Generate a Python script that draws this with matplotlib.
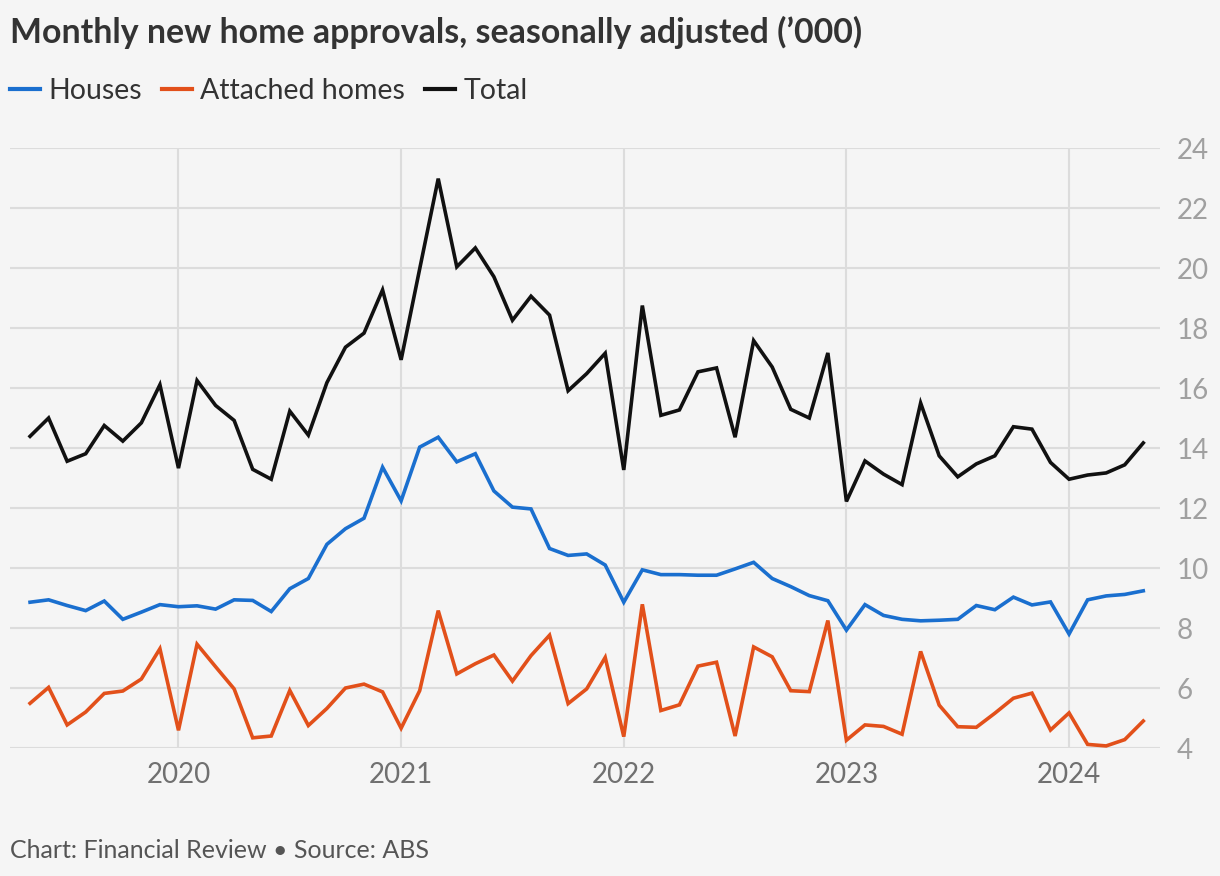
import numpy as np
import matplotlib
matplotlib.use("Agg")
import matplotlib.pyplot as plt

plt.rcParams['font.family'] = ['Lato', 'DejaVu Sans']

# monthly, May 2019 .. May 2024 ('000, seasonally adjusted)
start_year, start_month = 2019, 5
houses = [8.86, 8.94, 8.75, 8.58, 8.90, 8.29, 8.53, 8.78, 8.71, 8.74, 8.63, 8.94,
          8.92, 8.55, 9.31, 9.65, 10.79, 11.31, 11.66, 13.36, 12.24, 14.03, 14.36, 13.54,
          13.81, 12.57, 12.03, 11.97, 10.65, 10.42, 10.47, 10.10, 8.86, 9.94, 9.78, 9.78,
          9.76, 9.76, 9.97, 10.19, 9.65, 9.38, 9.08, 8.91, 7.93, 8.78, 8.42, 8.29,
          8.24, 8.26, 8.29, 8.75, 8.61, 9.03, 8.77, 8.87, 7.80, 8.94, 9.07, 9.12, 9.24]
attached = [5.49, 6.02, 4.77, 5.20, 5.82, 5.90, 6.30, 7.31, 4.59, 7.46, 6.71, 5.97,
            4.34, 4.40, 5.92, 4.75, 5.32, 6.00, 6.13, 5.87, 4.66, 5.91, 8.58, 6.47,
            6.81, 7.10, 6.23, 7.08, 7.76, 5.48, 5.97, 7.02, 4.38, 8.79, 5.25, 5.44,
            6.73, 6.86, 4.40, 7.37, 7.04, 5.91, 5.88, 8.25, 4.26, 4.77, 4.72, 4.46,
            7.22, 5.43, 4.71, 4.69, 5.16, 5.66, 5.83, 4.60, 5.17, 4.12, 4.07, 4.28, 4.90]
total = [14.39, 15.00, 13.56, 13.81, 14.75, 14.23, 14.84, 16.11, 13.33, 16.25, 15.42, 14.92,
         13.29, 12.96, 15.23, 14.43, 16.18, 17.36, 17.83, 19.27, 16.94, 19.97, 22.98, 20.04,
         20.67, 19.71, 18.26, 19.06, 18.43, 15.91, 16.48, 17.16, 13.27, 18.75, 15.09, 15.27,
         16.54, 16.67, 14.36, 17.58, 16.70, 15.29, 15.00, 17.17, 12.22, 13.57, 13.13, 12.78,
         15.50, 13.74, 13.04, 13.47, 13.74, 14.71, 14.63, 13.52, 12.96, 13.10, 13.17, 13.44, 14.17]
years = [2020, 2021, 2022, 2023, 2024]
y_ticks = [4, 6, 8, 10, 12, 14, 16, 18, 20, 22, 24]

x = np.arange(len(total))
year_pos = [(y - start_year) * 12 - (start_month - 1) for y in years]

bg = '#f5f5f5'
fig = plt.figure(figsize=(12.2, 8.76), dpi=100, facecolor=bg)
ax = fig.add_axes([0.0082, 0.1461, 0.9426, 0.6849], facecolor=bg)

ax.plot(x, houses, color='#1a6fcf', lw=2.6, label='Houses', solid_joinstyle='miter', zorder=3)
ax.plot(x, attached, color='#e2501a', lw=2.6, label='Attached homes', solid_joinstyle='miter', zorder=3)
ax.plot(x, total, color='#111111', lw=2.6, label='Total', solid_joinstyle='miter', zorder=3)

ax.set_xlim(-1.08, 60.9)
ax.set_ylim(4, 24)
ax.set_yticks(y_ticks)
ax.set_xticks(year_pos)
ax.set_xticklabels([str(y) for y in years])
ax.yaxis.tick_right()
ax.tick_params(axis='y', length=0, pad=12, labelsize=20, labelcolor='#a0a0a0')
ax.tick_params(axis='x', length=0, pad=10, labelsize=20, labelcolor='#707070')
ax.grid(True, color='#dcdcdc', lw=1.5, zorder=0)
for s in ax.spines.values():
    s.set_visible(False)

fig.text(0.008, 1 - 32 / 876, 'Monthly new home approvals, seasonally adjusted (’000)',
         fontsize=24.4, fontweight='bold', color='#333333', va='center', ha='left')
leg = fig.legend(loc='center left', bbox_to_anchor=(0.008, 1 - 91 / 876), ncol=3, frameon=False,
                 fontsize=20.5, handlelength=1.05, handletextpad=0.3, columnspacing=0.7,
                 labelcolor='#333333', borderaxespad=0, borderpad=0)
for h in leg.get_lines():
    h.set_linewidth(3)
fig.text(0.008, 1 - 850 / 876, 'Chart: Financial Review • Source: ABS',
         fontsize=18, color='#555555', va='center', ha='left')

fig.savefig('out.png', dpi=100, facecolor=bg)
